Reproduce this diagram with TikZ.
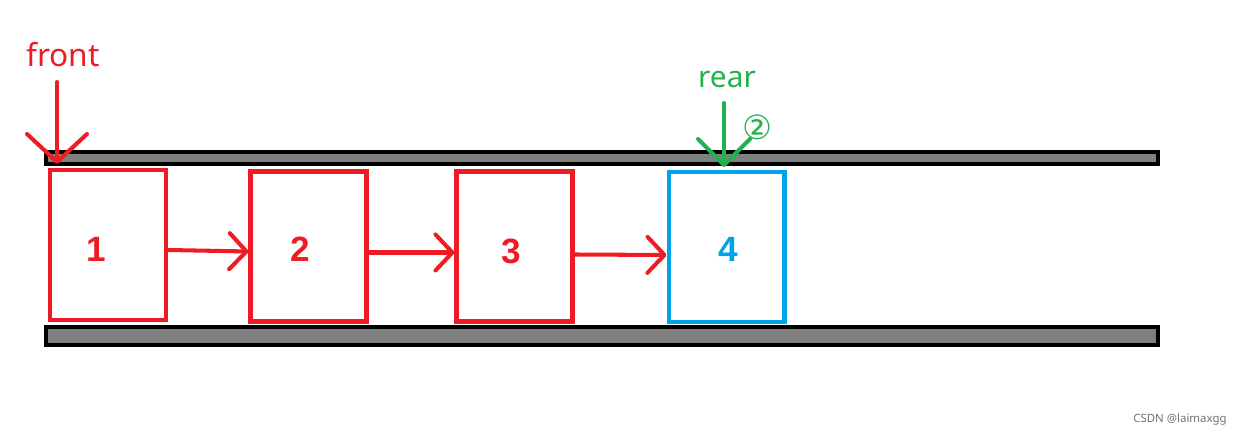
\documentclass[tikz,border=0pt]{standalone}
\usepackage{fontspec}
\setmainfont{Noto Sans}
\newfontfamily\numfont{Liberation Sans}
\newfontfamily\symfont{DejaVu Sans}
\usetikzlibrary{arrows.meta}
\definecolor{pred}{HTML}{ED1C24}
\definecolor{pgreen}{HTML}{22B14C}
\definecolor{pblue}{HTML}{00A2E8}
\definecolor{pgray}{HTML}{7F7F7F}
\tikzset{
  bar/.style={draw=black, fill=pgray, line width=2.3pt},
  cell/.style={draw=#1, line width=2.3pt, minimum width=2.32cm, minimum height=3cm, inner sep=0pt},
  num/.style={text=#1, font=\numfont\bfseries\fontsize{20}{24}\selectfont},
  link/.style={draw=pred, line width=2.3pt, line cap=round,
    -{Straight Barb[length=0.34cm, width=0.72cm, round]}},
  ptr/.style={draw=#1, line width=2.3pt, line cap=round},
}
\begin{document}
\begin{tikzpicture}[x=0.02cm, y=-0.02cm]
  \useasboundingbox (0,0) rectangle (1250,438);

  % two walls of the queue
  \draw[bar] (46,152) rectangle (1158,164);
  \draw[bar] (46,327) rectangle (1158,345);

  % cells
  \node[cell=pred] (b1) at (108,245) {};
  \node[cell=pred] (b2) at (308.5,246.5) {};
  \node[cell=pred] (b3) at (514.5,246.5) {};
  \node[cell=pblue] (b4) at (726.5,247) {};

  % numbers in the cells
  \node[num=pred] (n1) at (96,249) {1};
  \node[num=pred] (n2) at (300,249) {2};
  \node[num=pred] (n3) at (511,251) {3};
  \node[num=pblue] (n4) at (728,249) {4};

  % links between cells
  \draw[link] ([yshift=-0.1cm]b1.east) -- ([yshift=-0.1cm]b2.west);
  \draw[link] ([yshift=-0.12cm]b2.east) -- ([yshift=-0.12cm]b3.west);
  \draw[link] ([yshift=-0.16cm]b3.east) -- ([yshift=-0.16cm]b4.west);

  % front pointer
  \node[text=pred, font=\fontsize{18}{20}\selectfont] (front) at (63,55) {front};
  \coordinate (ftail) at (57,82);
  \coordinate (ftip) at (57,164);
  \draw[ptr=pred, -{Straight Barb[length=0.56cm, width=1.2cm, round]}] (ftail) -- (ftip);

  % rear pointer
  \node[text=pgreen, font=\fontsize{17}{20}\selectfont] (rear) at (727,80) {rear};
  \coordinate (rtail) at (724,103);
  \coordinate (rtip) at (724,167);
  \draw[ptr=pgreen, -{Straight Barb[length=0.52cm, width=1.04cm, round]}] (rtail) -- (rtip);
  \node[text=pgreen, font=\symfont\fontsize{19}{21}\selectfont] (step2) at (757,127) {②};

  % watermark
  \node[text=black!55, font=\fontsize{6.5}{8}\selectfont] (wm) at (1180,420) {CSDN @laimaxgg};
\end{tikzpicture}
\end{document}
